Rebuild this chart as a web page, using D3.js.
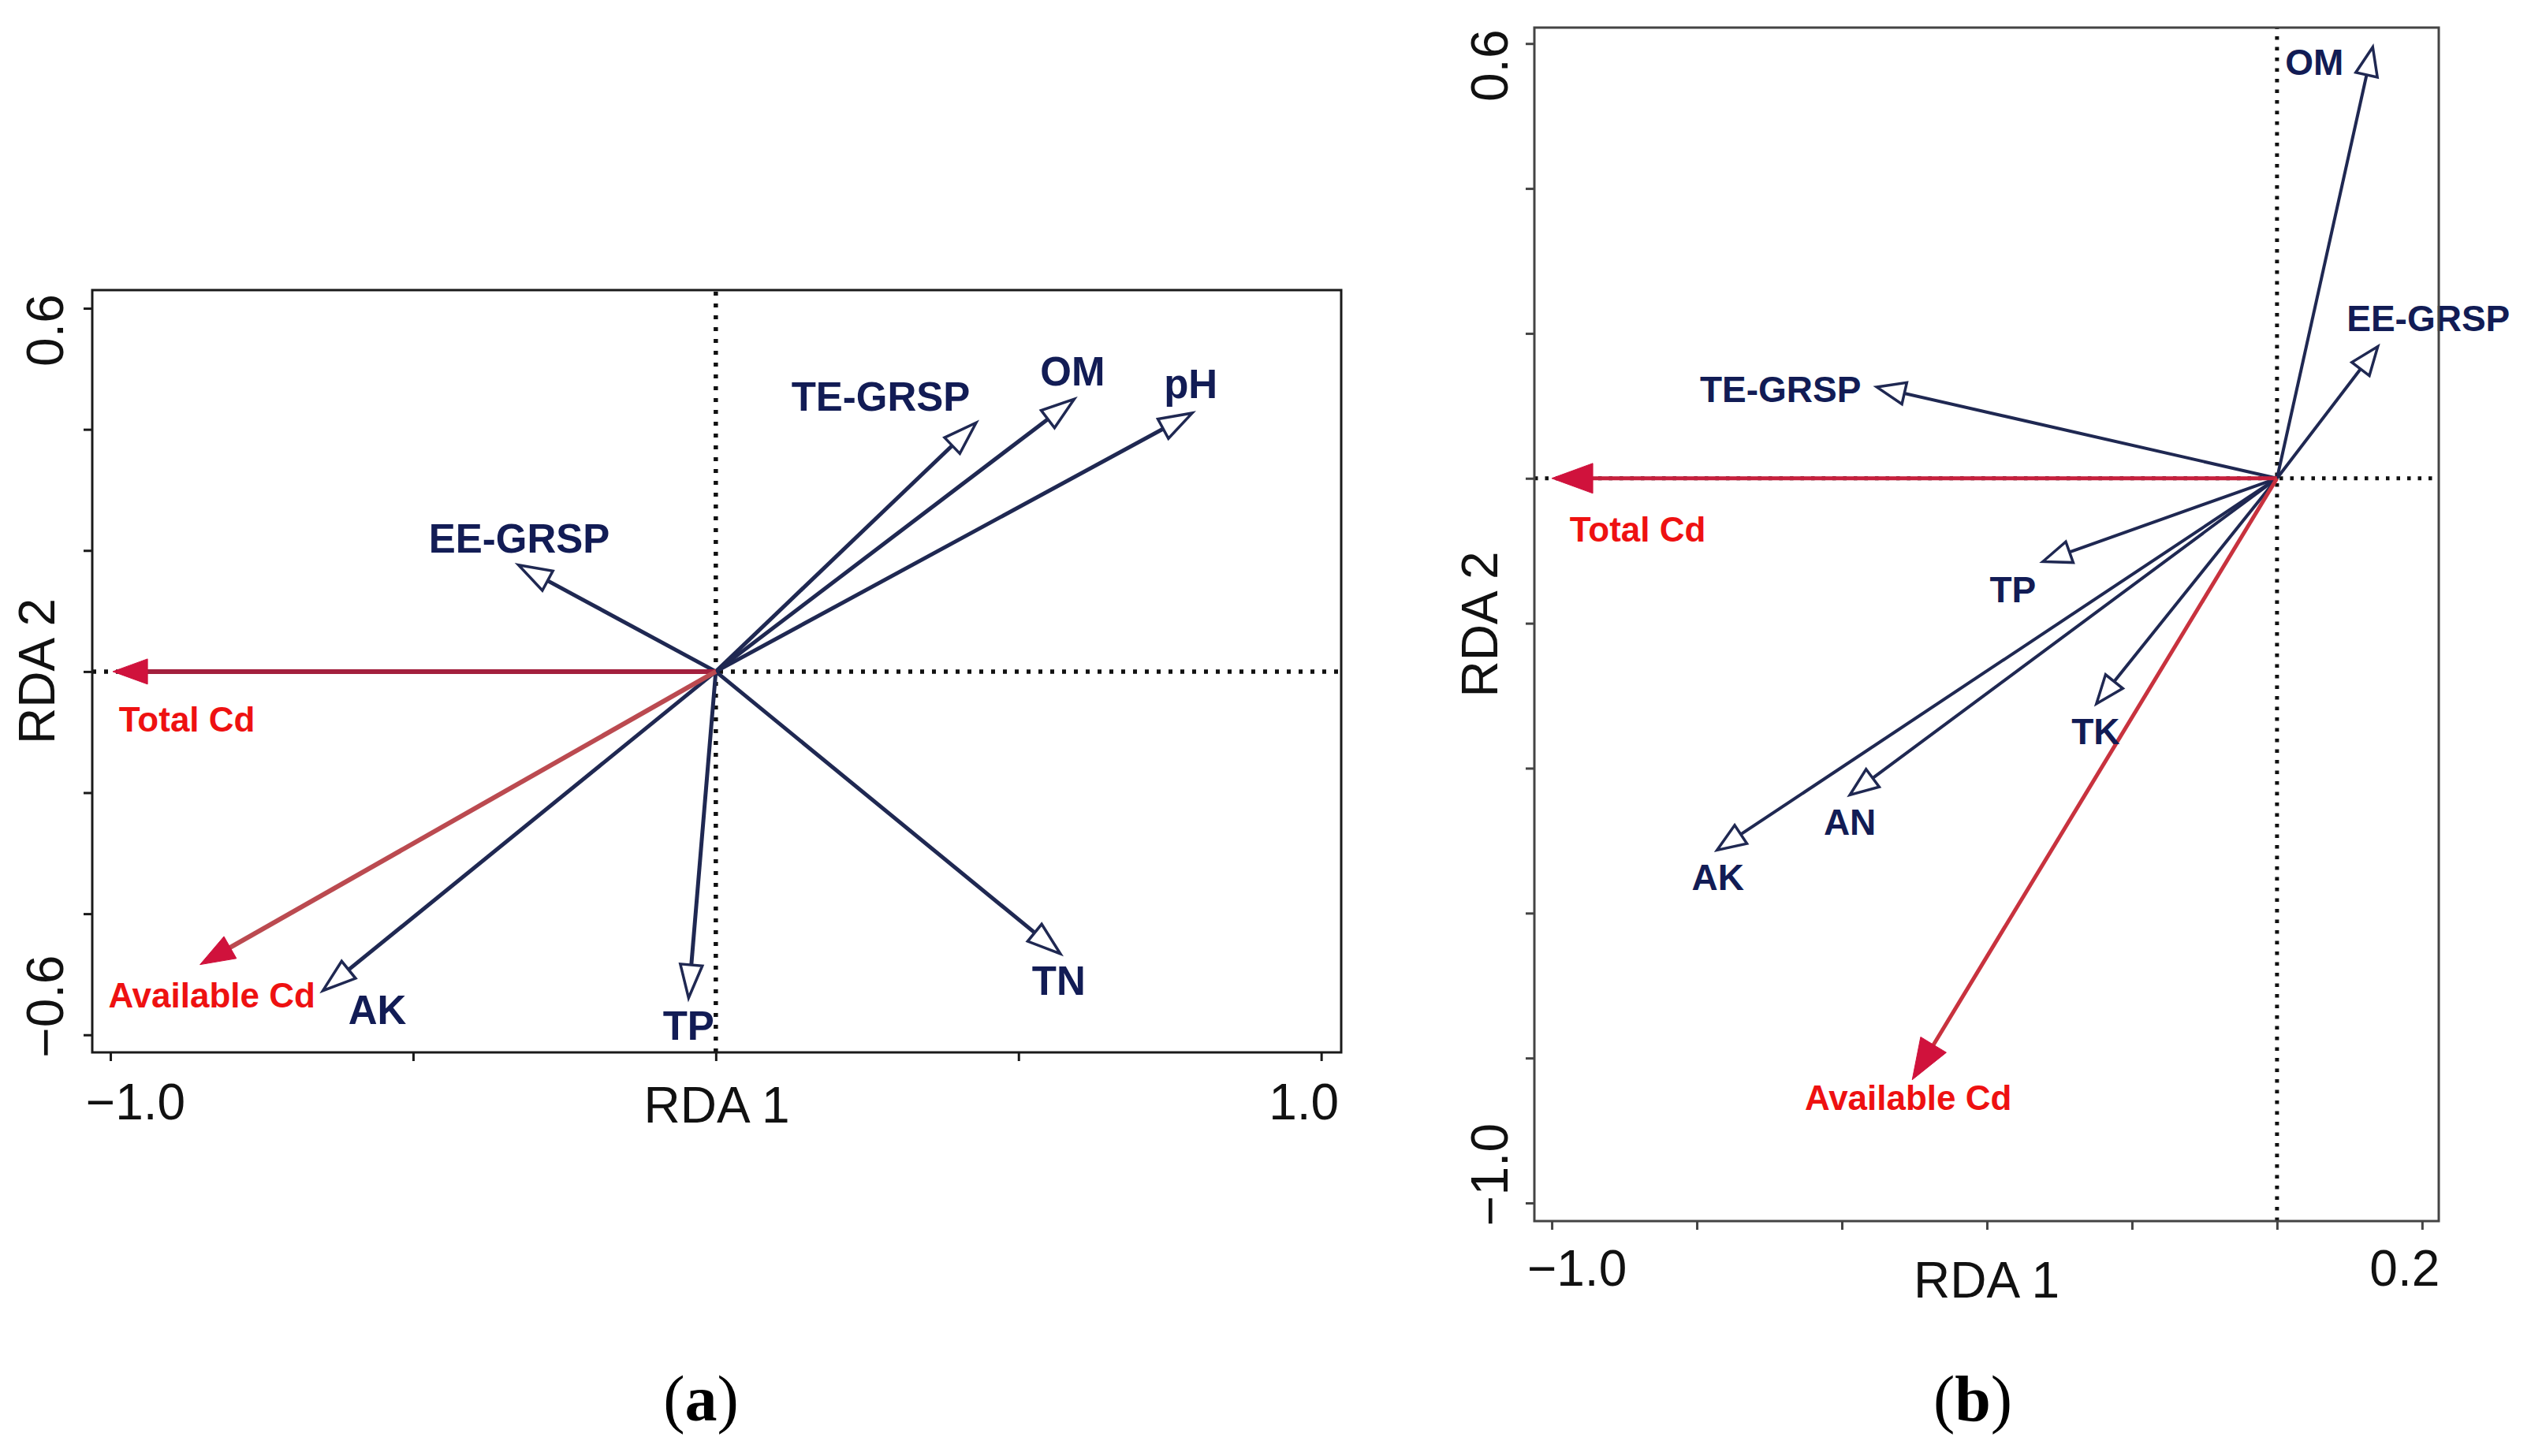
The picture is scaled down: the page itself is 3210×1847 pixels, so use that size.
<!DOCTYPE html>
<html>
<head>
<meta charset="utf-8">
<script src="https://cdn.jsdelivr.net/npm/d3@7"></script>
<style>
  body { margin: 0; background: #fff; }
  text { font-family: "Liberation Sans", Arial, Helvetica, sans-serif; }
</style>
</head>
<body>
<svg id="chart" width="3210" height="1847"></svg>
<script>
// ---- panel (a): soil variables and Cd responses ----
const a_vars = ["TE-GRSP", "OM", "pH", "EE-GRSP", "TN", "TP", "AK"];
const a_rda1 = [0.430, 0.592, 0.787, -0.326, 0.569, -0.045, -0.649];
const a_rda2 = [0.411, 0.450, 0.427, 0.176, -0.466, -0.539, -0.527];
const a_resp = ["Total Cd", "Available Cd"];
const a_resp_rda1 = [-0.996, -0.852];
const a_resp_rda2 = [0.000, -0.484];
const a_xticks = [-1.0, -0.5, 0.0, 0.5, 1.0];
const a_yticks = [-0.6, -0.4, -0.2, 0.0, 0.2, 0.4, 0.6];
const a_xlabels = ["\u22121.0", "", "", "", "1.0"];
const a_ylabels = ["\u22120.6", "", "", "", "", "", "0.6"];

// ---- panel (b) ----
const b_vars = ["OM", "EE-GRSP", "TE-GRSP", "TP", "TK", "AN", "AK"];
const b_rda1 = [0.132, 0.139, -0.552, -0.323, -0.249, -0.589, -0.772];
const b_rda2 = [0.595, 0.182, 0.126, -0.115, -0.311, -0.437, -0.513];
const b_resp = ["Total Cd", "Available Cd"];
const b_resp_rda1 = [-1.000, -0.503];
const b_resp_rda2 = [0.000, -0.830];
const b_xticks = [-1.0, -0.8, -0.6, -0.4, -0.2, 0.0, 0.2];
const b_yticks = [-1.0, -0.8, -0.6, -0.4, -0.2, 0.0, 0.2, 0.4, 0.6];
const b_xlabels = ["\u22121.0", "", "", "", "", "", "0.2"];
const b_ylabels = ["\u22121.0", "", "", "", "", "", "", "", "0.6"];

const navy = "#1f2852", navyText = "#121c55", redText = "#ee1111";

// label offsets from the arrow tip (px), kept apart from the data
const a_lab = {
  "TE-GRSP": [-121, -15], "OM": [-2, -17], "pH": [-2, -19], "EE-GRSP": [1, -16],
  "TN": [-2, 52], "TP": [0, 53], "AK": [69, 42],
  "Total Cd": [94, 76], "Available Cd": [15, 54]
};
const b_lab = {
  "OM": [-74, 35], "EE-GRSP": [64, -19], "TE-GRSP": [-122, 19], "TP": [-38, 52],
  "TK": [-1, 51], "AN": [0, 51], "AK": [1, 51],
  "Total Cd": [109, 80], "Available Cd": [-5, 38]
};

const svg = d3.select("#chart");

function arrow(g, x0, y0, x1, y1, o) {
  let dx = x1 - x0, dy = y1 - y0, len = Math.hypot(dx, dy);
  let ux = dx / len, uy = dy / len;
  let bx = x1 - ux * o.len, by = y1 - uy * o.len;
  g.append("line")
    .attr("x1", x0).attr("y1", y0)
    .attr("x2", o.fill === "white" ? bx : bx + ux * 4)
    .attr("y2", o.fill === "white" ? by : by + uy * 4)
    .attr("stroke", o.line).attr("stroke-width", o.lw);
  let pts = [[x1, y1], [bx - uy * o.half, by + ux * o.half], [bx + uy * o.half, by - ux * o.half]];
  g.append("polygon")
    .attr("points", pts.map(p => p.join(",")).join(" "))
    .attr("fill", o.fill).attr("stroke", o.head)
    .attr("stroke-width", o.fill === "white" ? 3.5 : 1)
    .attr("stroke-linejoin", "miter");
}

function panel(cfg) {
  let x = d3.scaleLinear().domain(cfg.xdom).range(cfg.xr);
  let y = d3.scaleLinear().domain(cfg.ydom).range(cfg.yr);
  let g = svg.append("g");

  // dotted zero lines
  g.append("line")
    .attr("x1", cfg.xr[0]).attr("x2", cfg.xr[1]).attr("y1", y(0)).attr("y2", y(0))
    .attr("stroke", "#111").attr("stroke-width", cfg.dotW).attr("stroke-dasharray", cfg.dots);
  g.append("line")
    .attr("x1", x(0)).attr("x2", x(0)).attr("y1", cfg.yr[0]).attr("y2", cfg.yr[1])
    .attr("stroke", "#111").attr("stroke-width", cfg.dotW).attr("stroke-dasharray", cfg.dots);

  // axes (ticks only, the box is drawn separately)
  let xa = g.append("g")
    .attr("transform", `translate(0,${cfg.yr[0]})`)
    .call(d3.axisBottom(x).tickValues(cfg.xticks).tickSize(11).tickFormat(""));
  let ya = g.append("g")
    .attr("transform", `translate(${cfg.xr[0]},0)`)
    .call(d3.axisLeft(y).tickValues(cfg.yticks).tickSize(11).tickFormat(""));
  [xa, ya].forEach(a => {
    a.select(".domain").remove();
    a.selectAll(".tick line").attr("stroke", cfg.boxColor).attr("stroke-width", 3);
  });

  // tick labels: end labels sit pulled in towards the plot centre
  cfg.xticks.forEach((t, i) => {
    let lab = cfg.xlabels[i];
    if (!lab) return;
    let shift = i === 0 ? 32 : -22;
    g.append("text").attr("x", x(t) + shift).attr("y", cfg.yr[0] + cfg.xlabY)
      .attr("text-anchor", "middle").attr("font-size", 64).attr("fill", "#111").text(lab);
  });
  cfg.yticks.forEach((t, i) => {
    let lab = cfg.ylabels[i];
    if (!lab) return;
    let shift = i === 0 ? -36 : 28;
    g.append("text")
      .attr("transform", `translate(${cfg.xr[0] - cfg.ylabX},${y(t) + shift}) rotate(-90)`)
      .attr("text-anchor", "middle").attr("font-size", 66).attr("fill", "#111").text(lab);
  });
  g.append("text").attr("x", (cfg.xr[0] + cfg.xr[1]) / 2).attr("y", cfg.yr[0] + cfg.xtitleY)
    .attr("text-anchor", "middle").attr("font-size", 64).attr("fill", "#111").text("RDA 1");
  g.append("text")
    .attr("transform", `translate(${cfg.xr[0] - cfg.ytitleX},${(cfg.yr[0] + cfg.yr[1]) / 2}) rotate(-90)`)
    .attr("text-anchor", "middle").attr("font-size", 64).attr("fill", "#111").text("RDA 2");

  // explanatory arrows
  cfg.vars.forEach((v, i) => {
    arrow(g, x(0), y(0), x(cfg.rda1[i]), y(cfg.rda2[i]),
      {len: cfg.headLen, half: cfg.headHalf, line: navy, head: navy, fill: "white", lw: cfg.lw});
  });
  // response arrows
  cfg.resp.forEach((v, i) => {
    arrow(g, x(0), y(0), x(cfg.resp1[i]), y(cfg.resp2[i]),
      {len: cfg.redLen, half: cfg.redHalf, line: cfg.redLines[i], head: "#d0123c", fill: "#d0123c", lw: cfg.lw + 1});
  });

  // labels
  cfg.vars.forEach((v, i) => {
    let o = cfg.lab[v];
    g.append("text").attr("x", x(cfg.rda1[i]) + o[0]).attr("y", y(cfg.rda2[i]) + o[1])
      .attr("text-anchor", "middle").attr("font-size", cfg.labSize).attr("font-weight", "bold")
      .attr("fill", navyText).text(v);
  });
  cfg.resp.forEach((v, i) => {
    let o = cfg.lab[v];
    g.append("text").attr("x", x(cfg.resp1[i]) + o[0]).attr("y", y(cfg.resp2[i]) + o[1])
      .attr("text-anchor", "middle").attr("font-size", cfg.redSize).attr("font-weight", "bold")
      .attr("fill", redText).text(v);
  });

  // frame
  g.append("rect")
    .attr("x", cfg.xr[0]).attr("y", cfg.yr[1])
    .attr("width", cfg.xr[1] - cfg.xr[0]).attr("height", cfg.yr[0] - cfg.yr[1])
    .attr("fill", "none").attr("stroke", cfg.boxColor).attr("stroke-width", 3);

  g.append("text").attr("x", cfg.tagX).attr("y", 1802)
    .attr("text-anchor", "middle").attr("font-size", 82).attr("font-weight", "normal")
    .style("font-family", "'Liberation Serif', 'Times New Roman', serif")
    .html(`(<tspan font-weight="bold">${cfg.tag}</tspan>)`);
}

panel({
  xdom: [-1.03, 1.033], xr: [117, 1701], ydom: [-0.629, 0.63], yr: [1335, 368],
  xticks: a_xticks, yticks: a_yticks, xlabels: a_xlabels, ylabels: a_ylabels,
  xlabY: 85, ylabX: 37, xtitleY: 89, ytitleX: 48,
  vars: a_vars, rda1: a_rda1, rda2: a_rda2,
  resp: a_resp, resp1: a_resp_rda1, resp2: a_resp_rda2,
  redLines: ["#a3203e", "#bb4a50"], lab: a_lab,
  headLen: 42, headHalf: 14, redLen: 44, redHalf: 16, lw: 5,
  dotW: 5.5, dots: "5 10",
  labSize: 51, redSize: 44, boxColor: "#1a1a1a", tag: "a", tagX: 889
});

panel({
  xdom: [-1.024, 0.223], xr: [1946, 3093], ydom: [-1.025, 0.622], yr: [1549, 35],
  xticks: b_xticks, yticks: b_yticks, xlabels: b_xlabels, ylabels: b_ylabels,
  xlabY: 82, ylabX: 34, xtitleY: 97, ytitleX: 47,
  vars: b_vars, rda1: b_rda1, rda2: b_rda2,
  resp: b_resp, resp1: b_resp_rda1, resp2: b_resp_rda2,
  redLines: ["#c6203c", "#c8323e"], lab: b_lab,
  headLen: 36, headHalf: 14, redLen: 52, redHalf: 19, lw: 4,
  dotW: 5, dots: "4.5 9",
  labSize: 46, redSize: 44, boxColor: "#444", tag: "b", tagX: 2502
});
</script>
</body>
</html>
